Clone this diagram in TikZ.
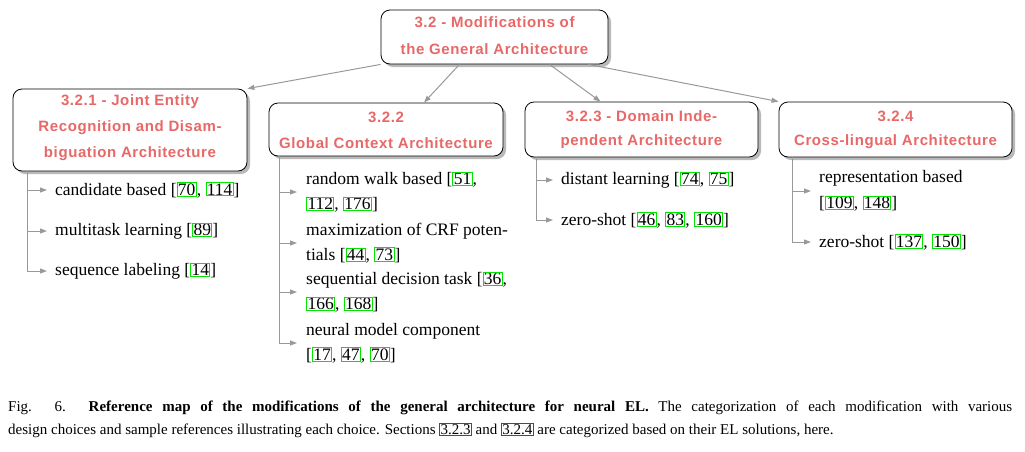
\documentclass[tikz,border=0pt]{standalone}
\usepackage{fontspec}
\setmainfont{Liberation Serif}
\newfontfamily\hdfont[LetterSpace=4]{Liberation Sans}
\usetikzlibrary{arrows.meta,shadows}
\definecolor{hd}{RGB}{232,104,104}
\definecolor{lk}{RGB}{0,230,0}
\newcommand{\gc}[1]{{\fboxsep=0.3pt\fboxrule=1pt\color{lk}\fbox{\color{black}#1}}}
\newcommand{\rc}[1]{{\fboxsep=0.3pt\fboxrule=1pt\color{red}\fbox{\color{black}#1}}}
\begin{document}
\begin{tikzpicture}[x=1pt,y=-1pt,
  hbox/.style={draw,rounded corners=9pt,fill=white,line width=0.8pt,
    drop shadow={shadow xshift=3pt,shadow yshift=-3pt,fill=gray!55,opacity=1}},
  htxt/.style={font=\hdfont\bfseries\fontsize{15}{17}\selectfont,text=hd,inner sep=0},
  itm/.style={font=\fontsize{17.5}{20}\selectfont,anchor=west,inner sep=0},
  itm2/.style={itm,align=left,font=\fontsize{17.5}{25}\selectfont},
  cnx/.style={draw=gray!80,line width=1pt,-{Triangle[length=7pt,width=5pt]}},
  tree/.style={draw=gray!80,line width=1pt},
  captxt/.style={anchor=west,inner sep=0,font=\fontsize{15}{17}\selectfont}]
\useasboundingbox (0,0) rectangle (1025,451);
% boxes
\node[hbox,minimum width=227pt,minimum height=54pt] (top) at (494.5,37) {};
\node[htxt] at (494.5,22) {3.2 - Modifications of};
\node[htxt] at (494.5,49) {the General Architecture};
\node[hbox,minimum width=234pt,minimum height=82pt] (b1) at (130,130) {};
\node[htxt] at (130,102) {3.2.1 - Joint Entity};
\node[htxt] at (130,128) {Recognition and Disam-};
\node[htxt] at (130,154) {biguation Architecture};
\node[hbox,minimum width=234pt,minimum height=53pt] (b2) at (386,129.5) {};
\node[htxt] at (386,117) {3.2.2};
\node[htxt] at (386,143) {Global Context Architecture};
\node[hbox,minimum width=233pt,minimum height=55pt] (b3) at (641.5,129.5) {};
\node[htxt] at (641.5,116) {3.2.3 - Domain Inde-};
\node[htxt] at (641.5,142) {pendent Architecture};
\node[hbox,minimum width=233pt,minimum height=55pt] (b4) at (895.5,129.5) {};
\node[htxt] at (895.5,116) {3.2.4};
\node[htxt] at (895.5,142) {Cross-lingual Architecture};
% connectors
\draw[cnx] (top.south west) -- (b1.north east);
\draw[cnx] ([xshift=-35pt]top.south) -- ([xshift=38pt]b2.north);
\draw[cnx] ([xshift=55pt]top.south) -- ([xshift=-41pt]b3.north);
\draw[cnx] ([xshift=-20pt]top.south east) -- (b4.north west);
% items b1
\coordinate (t1) at (27,171);
\node[itm] (i11) at (55,190) {candidate based [\gc{70}, \gc{114}]};
\node[itm] (i12) at (55,231) {multitask learning [\gc{89}]};
\node[itm] (i13) at (55,271) {sequence labeling [\gc{14}]};
\draw[tree] (t1) -- (27,271);
\foreach \n in {i11,i12,i13} \draw[cnx] (27,0 |- \n.west) -- ([xshift=-8pt]\n.west);
% items b2
\coordinate (t2) at (279,156);
\node[itm2] (i21) at (306,192) {random walk based [\gc{51},\\\gc{112}, \gc{176}]};
\node[itm2] (i22) at (306,243) {maximization of CRF poten-\\tials [\gc{44}, \gc{73}]};
\node[itm2] (i23) at (306,292) {sequential decision task [\gc{36},\\\gc{166}, \gc{168}]};
\node[itm2] (i24) at (306,343) {neural model component\\{}[\gc{17}, \gc{47}, \gc{70}]};
\draw[tree] (t2) -- (279,344);
\foreach \n in {i21,i22,i23,i24} \draw[cnx] (279,0 |- \n.west) -- ([xshift=-9pt]\n.west);
% items b3
\coordinate (t3) at (536,157);
\node[itm] (i31) at (561,180) {distant learning [\gc{74}, \gc{75}]};
\node[itm] (i32) at (561,220) {zero-shot [\gc{46}, \gc{83}, \gc{160}]};
\draw[tree] (t3) -- (536,220);
\foreach \n in {i31,i32} \draw[cnx] (536,0 |- \n.west) -- ([xshift=-8pt]\n.west);
% items b4
\coordinate (t4) at (792,157);
\node[itm2,font=\fontsize{17.5}{26}\selectfont] (i41) at (819,191) {representation based\\{}[\gc{109}, \gc{148}]};
\node[itm] (i42) at (819,242) {zero-shot [\gc{137}, \gc{150}]};
\draw[tree] (t4) -- (792,242);
\foreach \n in {i41,i42} \draw[cnx] (792,0 |- \n.west) -- ([xshift=-8pt]\n.west);
% caption
\node[captxt] (cap1) at (8,408) {\makebox[1004pt][s]{Fig. 6. \textbf{Reference map of the modifications of the general architecture for neural EL.} The categorization of each modification with various}};
\node[captxt] (cap2) at (8,430) {design choices and sample references illustrating each choice. Sections \rc{3.2.3} and \rc{3.2.4} are categorized based on their EL solutions, here.};
\end{tikzpicture}
\end{document}
